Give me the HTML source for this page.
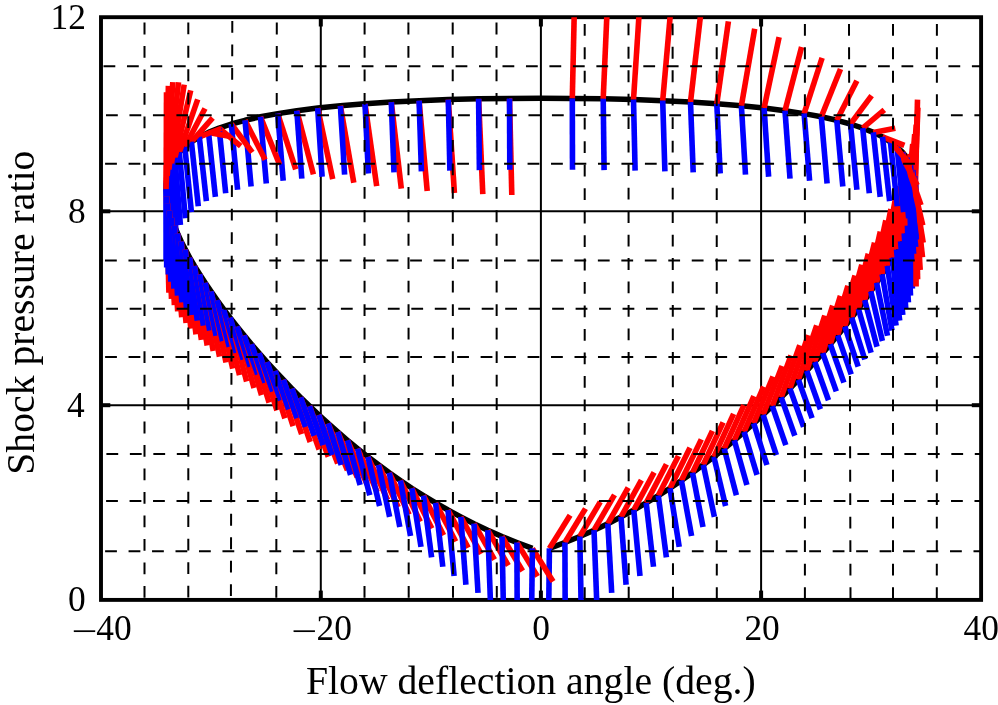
<!DOCTYPE html><html><head><meta charset="utf-8"><style>html,body{margin:0;padding:0;background:#fff;overflow:hidden}svg{display:block}.r{stroke:#f00}.b{stroke:#00f}line{stroke:#000}text{font-family:"Liberation Serif","Times New Roman",serif;fill:#000}</style></head><body>
<svg width="998" height="705" viewBox="0 0 998 705">
<defs><clipPath id="c"><rect x="101.0" y="17.2" width="880.1" height="582.7"/></clipPath></defs>
<g stroke-width="2">
<line x1="320.8" y1="599.9" x2="320.8" y2="17.2"/>
<line x1="540.9" y1="599.9" x2="540.9" y2="17.2"/>
<line x1="761.1" y1="599.9" x2="761.1" y2="17.2"/>
<line x1="101.0" y1="405.2" x2="981.1" y2="405.2"/>
<line x1="101.0" y1="211.3" x2="981.1" y2="211.3"/>
</g>
<g stroke-width="4">
<line x1="320.8" y1="599.9" x2="320.8" y2="590.6"/>
<line x1="320.8" y1="17.2" x2="320.8" y2="26.5"/>
<line x1="540.9" y1="599.9" x2="540.9" y2="590.6"/>
<line x1="540.9" y1="17.2" x2="540.9" y2="26.5"/>
<line x1="761.1" y1="599.9" x2="761.1" y2="590.6"/>
<line x1="761.1" y1="17.2" x2="761.1" y2="26.5"/>
<line x1="101.0" y1="405.2" x2="110.3" y2="405.2"/>
<line x1="981.1" y1="405.2" x2="971.8" y2="405.2"/>
<line x1="101.0" y1="211.3" x2="110.3" y2="211.3"/>
<line x1="981.1" y1="211.3" x2="971.8" y2="211.3"/>
</g>
<rect x="101.0" y="17.2" width="880.1" height="582.7" fill="none" stroke="#000" stroke-width="3.9"/>
<g clip-path="url(#c)">
<polyline fill="none" stroke="#000" stroke-width="5.50" stroke-linejoin="round" points="532.4,548.4 516.9,542.5 502.0,536.5 487.8,530.2 474.0,523.7 460.8,516.9 448.0,510.0 435.6,502.9 423.5,495.6 411.8,488.2 400.4,480.5 389.3,472.8 378.5,464.8 367.9,456.8 357.6,448.6 347.5,440.3 337.7,431.9 328.1,423.4 318.7,414.8 309.5,406.1 300.6,397.4 291.9,388.6 283.4,379.7 275.1,370.9 267.0,362.0 259.1,353.1 251.5,344.2 244.1,335.3 237.0,326.5 230.1,317.6 223.4,308.8 217.1,300.1 211.0,291.4 205.2,282.8 199.7,274.3 194.5,265.9 189.7,257.6 185.3,249.4 181.2,241.4 177.6,233.4 174.4,225.7 171.6,218.0 169.4,210.6 167.7,203.3 166.6,196.2 166.1,189.3 166.3,182.6 167.2,176.0 168.9,169.8 171.4,163.7 174.9,157.8 179.3,152.3 184.8,146.9 191.4,141.8 199.3,136.9 208.5,132.4 219.1,128.1 231.3,124.0 245.0,120.3 260.5,116.8 277.7,113.6 296.8,110.7 317.7,108.1 340.4,105.8 365.0,103.8 391.3,102.1 419.1,100.7 448.3,99.6 478.6,98.8 509.5,98.4 540.9,98.2 572.3,98.4 603.2,98.8 633.5,99.6 662.7,100.7 690.5,102.1 716.8,103.8 741.4,105.8 764.1,108.1 785.0,110.7 804.1,113.6 821.3,116.8 836.8,120.3 850.5,124.0 862.7,128.1 873.3,132.4 882.5,136.9 890.4,141.8 897.0,146.9 902.5,152.3 906.9,157.8 910.4,163.7 912.9,169.8 914.6,176.0 915.5,182.6 915.7,189.3 915.2,196.2 914.1,203.3 912.4,210.6 910.2,218.0 907.4,225.7 904.2,233.4 900.6,241.4 896.5,249.4 892.1,257.6 887.3,265.9 882.1,274.3 876.6,282.8 870.8,291.4 864.7,300.1 858.4,308.8 851.7,317.6 844.8,326.5 837.7,335.3 830.3,344.2 822.7,353.1 814.8,362.0 806.7,370.9 798.4,379.7 789.9,388.6 781.2,397.4 772.3,406.1 763.1,414.8 753.7,423.4 744.1,431.9 734.3,440.3 724.2,448.6 713.9,456.8 703.3,464.8 692.5,472.8 681.4,480.5 670.0,488.2 658.3,495.6 646.2,502.9 633.8,510.0 621.0,516.9 607.8,523.7 594.0,530.2 579.8,536.5 564.9,542.5 549.4,548.4"/>
<g fill="none" stroke-width="5.60"><path class="r" d="M549.4 548.4L570.1 515.2"/><path class="b" d="M549.4 548.4L548.6 619.6"/><path class="r" d="M564.9 542.5L585.5 508.6"/><path class="b" d="M564.9 542.5L565.2 613.9"/><path class="r" d="M579.8 536.5L600.3 501.9"/><path class="b" d="M579.8 536.5L581.2 607.6"/><path class="r" d="M594.0 530.2L614.5 494.9"/><path class="b" d="M594.0 530.2L596.7 600.6"/><path class="r" d="M607.8 523.7L628.2 487.6"/><path class="b" d="M607.8 523.7L611.7 592.9"/><path class="r" d="M621.0 516.9L641.4 480.1"/><path class="b" d="M621.0 516.9L626.1 584.7"/><path class="r" d="M633.8 510.0L654.1 472.3"/><path class="b" d="M633.8 510.0L640.0 576.0"/><path class="r" d="M646.2 502.9L666.4 464.3"/><path class="b" d="M646.2 502.9L653.5 566.7"/><path class="r" d="M658.3 495.6L678.4 456.1"/><path class="b" d="M658.3 495.6L666.4 557.4"/><path class="r" d="M670.0 488.2L690.0 447.8"/><path class="b" d="M670.0 488.2L679.2 546.9"/><path class="r" d="M681.4 480.5L701.3 439.4"/><path class="b" d="M681.4 480.5L691.6 536.1"/><path class="r" d="M692.5 472.8L712.4 430.9"/><path class="b" d="M692.5 472.8L703.0 527.0"/><path class="r" d="M703.3 464.8L723.1 422.4"/><path class="b" d="M703.3 464.8L714.4 516.8"/><path class="r" d="M713.9 456.8L733.6 413.8"/><path class="b" d="M713.9 456.8L725.6 506.0"/><path class="r" d="M724.2 448.6L743.9 405.1"/><path class="b" d="M724.2 448.6L736.4 495.2"/><path class="r" d="M734.3 440.3L753.9 396.2"/><path class="b" d="M734.3 440.3L746.9 485.0"/><path class="r" d="M744.1 431.9L763.6 386.7"/><path class="b" d="M744.1 431.9L757.0 474.9"/><path class="r" d="M753.7 423.4L773.0 376.5"/><path class="b" d="M753.7 423.4L766.9 465.0"/><path class="r" d="M763.1 414.8L782.1 366.0"/><path class="b" d="M763.1 414.8L776.4 455.1"/><path class="r" d="M772.3 406.1L791.0 355.5"/><path class="b" d="M772.3 406.1L785.8 445.1"/><path class="r" d="M781.2 397.4L799.8 345.2"/><path class="b" d="M781.2 397.4L794.8 435.7"/><path class="r" d="M789.9 388.6L808.3 335.2"/><path class="b" d="M789.9 388.6L803.6 426.9"/><path class="r" d="M798.4 379.7L816.7 325.3"/><path class="b" d="M798.4 379.7L812.1 418.1"/><path class="r" d="M806.7 370.9L824.8 315.5"/><path class="b" d="M806.7 370.9L820.4 409.2"/><path class="r" d="M814.8 362.0L832.7 305.7"/><path class="b" d="M814.8 362.0L828.5 400.2"/><path class="r" d="M822.7 353.1L840.4 295.8"/><path class="b" d="M822.7 353.1L836.3 391.4"/><path class="r" d="M830.3 344.2L847.9 285.8"/><path class="b" d="M830.3 344.2L843.9 382.6"/><path class="r" d="M837.7 335.3L855.0 275.5"/><path class="b" d="M837.7 335.3L851.2 374.3"/><path class="r" d="M844.8 326.5L861.8 264.8"/><path class="b" d="M844.8 326.5L858.2 366.7"/><path class="r" d="M851.7 317.6L868.3 253.7"/><path class="b" d="M851.7 317.6L864.8 359.5"/><path class="r" d="M858.4 308.8L874.5 242.6"/><path class="b" d="M858.4 308.8L871.1 352.8"/><path class="r" d="M864.7 300.1L880.3 231.6"/><path class="b" d="M864.7 300.1L877.0 346.7"/><path class="r" d="M870.8 291.4L885.8 220.4"/><path class="b" d="M870.8 291.4L882.4 341.0"/><path class="r" d="M876.6 282.8L890.9 209.1"/><path class="b" d="M876.6 282.8L887.5 335.7"/><path class="r" d="M882.1 274.3L895.6 197.6"/><path class="b" d="M882.1 274.3L892.0 330.6"/><path class="r" d="M887.3 265.9L899.9 186.4"/><path class="b" d="M887.3 265.9L896.1 325.7"/><path class="r" d="M892.1 257.6L903.8 175.4"/><path class="b" d="M892.1 257.6L899.7 320.6"/><path class="r" d="M896.5 249.4L907.2 164.6"/><path class="b" d="M896.5 249.4L902.8 315.1"/><path class="r" d="M900.6 241.4L910.2 154.1"/><path class="b" d="M900.6 241.4L905.8 308.8"/><path class="r" d="M904.2 233.4L912.7 143.9"/><path class="b" d="M904.2 233.4L908.4 302.4"/><path class="r" d="M907.4 225.7L914.7 134.1"/><path class="b" d="M907.4 225.7L910.5 295.7"/><path class="r" d="M910.2 218.0L916.2 124.7"/><path class="b" d="M910.2 218.0L912.4 288.7"/><path class="r" d="M912.4 210.6L917.3 116.0"/><path class="b" d="M912.4 210.6L913.8 281.7"/><path class="r" d="M914.1 203.3L917.9 107.7"/><path class="b" d="M914.1 203.3L914.6 274.6"/><path class="r" d="M915.2 196.2L917.5 99.6"/><path class="b" d="M915.2 196.2L915.3 267.5"/><path class="r" d="M915.7 189.3L916.1 286.4"/><path class="b" d="M915.7 189.3L915.7 260.6"/><path class="r" d="M915.5 182.6L917.6 279.2"/><path class="b" d="M915.5 182.6L916.4 253.8"/><path class="r" d="M914.6 176.0L920.2 270.0"/><path class="b" d="M914.6 176.0L916.7 246.8"/><path class="r" d="M912.9 169.8L922.5 257.2"/><path class="b" d="M912.9 169.8L916.3 239.6"/><path class="r" d="M910.4 163.7L923.2 242.7"/><path class="b" d="M910.4 163.7L914.9 232.2"/><path class="r" d="M906.9 157.8L922.8 225.3"/><path class="b" d="M906.9 157.8L912.5 224.9"/><path class="r" d="M902.5 152.3L921.0 205.1"/><path class="b" d="M902.5 152.3L908.7 218.3"/><path class="r" d="M897.0 146.9L917.2 185.3"/><path class="b" d="M897.0 146.9L903.6 212.1"/><path class="r" d="M890.4 141.8L911.7 165.8"/><path class="b" d="M890.4 141.8L897.3 206.3"/><path class="r" d="M882.5 136.9L904.4 145.4"/><path class="b" d="M882.5 136.9L889.6 201.1"/><path class="r" d="M873.3 132.4L895.3 128.3"/><path class="b" d="M873.3 132.4L880.2 196.9"/><path class="r" d="M862.7 128.1L884.3 109.9"/><path class="b" d="M862.7 128.1L869.3 193.2"/><path class="r" d="M850.5 124.0L871.6 95.6"/><path class="b" d="M850.5 124.0L856.9 189.7"/><path class="r" d="M836.8 120.3L856.9 80.8"/><path class="b" d="M836.8 120.3L842.8 186.4"/><path class="r" d="M821.3 116.8L840.5 69.0"/><path class="b" d="M821.3 116.8L827.1 183.4"/><path class="r" d="M804.1 113.6L822.1 57.9"/><path class="b" d="M804.1 113.6L809.6 180.7"/><path class="r" d="M785.0 110.7L801.6 47.0"/><path class="b" d="M785.0 110.7L790.0 178.6"/><path class="r" d="M764.1 108.1L779.1 37.1"/><path class="b" d="M764.1 108.1L768.6 176.7"/><path class="r" d="M741.4 105.8L754.7 28.8"/><path class="b" d="M741.4 105.8L745.5 174.7"/><path class="r" d="M716.8 103.8L728.4 21.4"/><path class="b" d="M716.8 103.8L720.2 173.5"/><path class="r" d="M690.5 102.1L700.5 15.6"/><path class="b" d="M690.5 102.1L693.2 172.4"/><path class="r" d="M662.7 100.7L670.7 10.3"/><path class="b" d="M662.7 100.7L664.9 171.4"/><path class="r" d="M633.5 99.6L639.6 6.3"/><path class="b" d="M633.5 99.6L635.1 170.6"/><path class="r" d="M603.2 98.8L607.4 3.5"/><path class="b" d="M603.2 98.8L604.1 170.1"/><path class="r" d="M572.3 98.4L574.5 1.8"/><path class="b" d="M572.3 98.4L572.5 169.7"/><path class="r" d="M509.5 98.4L511.8 195.0"/><path class="b" d="M509.5 98.4L509.8 169.7"/><path class="r" d="M478.6 98.8L482.8 194.2"/><path class="b" d="M478.6 98.8L479.4 170.1"/><path class="r" d="M448.3 99.6L454.4 193.0"/><path class="b" d="M448.3 99.6L449.9 170.6"/><path class="r" d="M419.1 100.7L427.2 191.1"/><path class="b" d="M419.1 100.7L421.4 171.4"/><path class="r" d="M391.3 102.1L401.3 188.6"/><path class="b" d="M391.3 102.1L394.0 172.4"/><path class="r" d="M365.0 103.8L376.7 186.1"/><path class="b" d="M365.0 103.8L368.4 173.5"/><path class="r" d="M340.4 105.8L353.8 182.8"/><path class="b" d="M340.4 105.8L344.6 174.7"/><path class="r" d="M317.7 108.1L332.7 179.1"/><path class="b" d="M317.7 108.1L322.1 176.7"/><path class="r" d="M296.8 110.7L313.4 174.4"/><path class="b" d="M296.8 110.7L301.8 178.6"/><path class="r" d="M277.7 113.6L295.7 169.3"/><path class="b" d="M277.7 113.6L283.2 180.7"/><path class="r" d="M260.5 116.8L279.6 164.6"/><path class="b" d="M260.5 116.8L266.3 183.4"/><path class="r" d="M245.0 120.3L265.1 159.7"/><path class="b" d="M245.0 120.3L251.1 186.4"/><path class="r" d="M231.3 124.0L252.3 152.4"/><path class="b" d="M231.3 124.0L237.6 189.7"/><path class="r" d="M219.1 128.1L240.7 146.2"/><path class="b" d="M219.1 128.1L225.7 193.2"/><path class="r" d="M208.5 132.4L230.5 136.4"/><path class="b" d="M208.5 132.4L215.4 196.9"/><path class="r" d="M199.3 136.9L221.2 128.5"/><path class="b" d="M199.3 136.9L206.4 201.1"/><path class="r" d="M191.4 141.8L212.7 117.8"/><path class="b" d="M191.4 141.8L198.3 206.3"/><path class="r" d="M184.8 146.9L205.0 108.5"/><path class="b" d="M184.8 146.9L191.4 212.1"/><path class="r" d="M179.3 152.3L197.7 99.4"/><path class="b" d="M179.3 152.3L185.4 218.3"/><path class="r" d="M174.9 157.8L190.7 90.4"/><path class="b" d="M174.9 157.8L180.4 224.9"/><path class="r" d="M171.4 163.7L184.2 84.6"/><path class="b" d="M171.4 163.7L176.0 232.2"/><path class="r" d="M168.9 169.8L178.5 82.3"/><path class="b" d="M168.9 169.8L172.2 239.6"/><path class="r" d="M167.2 176.0L172.8 82.1"/><path class="b" d="M167.2 176.0L169.3 246.8"/><path class="r" d="M166.3 182.6L168.4 85.9"/><path class="b" d="M166.3 182.6L167.1 253.8"/><path class="r" d="M166.1 189.3L166.5 92.2"/><path class="b" d="M166.1 189.3L166.1 260.6"/><path class="r" d="M166.6 196.2L168.9 292.7"/><path class="b" d="M166.6 196.2L166.7 267.5"/><path class="r" d="M167.7 203.3L171.5 298.9"/><path class="b" d="M167.7 203.3L168.3 274.6"/><path class="r" d="M169.4 210.6L174.4 305.2"/><path class="b" d="M169.4 210.6L170.8 281.7"/><path class="r" d="M171.6 218.0L177.7 311.4"/><path class="b" d="M171.6 218.0L173.9 288.7"/><path class="r" d="M174.4 225.7L181.7 317.3"/><path class="b" d="M174.4 225.7L177.5 295.7"/><path class="r" d="M177.6 233.4L186.1 323.0"/><path class="b" d="M177.6 233.4L181.8 302.4"/><path class="r" d="M181.2 241.4L190.9 328.6"/><path class="b" d="M181.2 241.4L186.5 308.8"/><path class="r" d="M185.3 249.4L196.0 334.3"/><path class="b" d="M185.3 249.4L191.6 315.1"/><path class="r" d="M189.7 257.6L201.4 339.9"/><path class="b" d="M189.7 257.6L197.3 320.6"/><path class="r" d="M194.5 265.9L207.2 345.5"/><path class="b" d="M194.5 265.9L203.4 325.7"/><path class="r" d="M199.7 274.3L213.2 351.0"/><path class="b" d="M199.7 274.3L209.7 330.6"/><path class="r" d="M205.2 282.8L219.5 356.6"/><path class="b" d="M205.2 282.8L216.1 335.7"/><path class="r" d="M211.0 291.4L226.0 362.5"/><path class="b" d="M211.0 291.4L222.6 341.0"/><path class="r" d="M217.1 300.1L232.7 368.6"/><path class="b" d="M217.1 300.1L229.3 346.7"/><path class="r" d="M223.4 308.8L239.5 375.1"/><path class="b" d="M223.4 308.8L236.2 352.8"/><path class="r" d="M230.1 317.6L246.6 381.5"/><path class="b" d="M230.1 317.6L243.2 359.5"/><path class="r" d="M237.0 326.5L254.0 388.1"/><path class="b" d="M237.0 326.5L250.3 366.7"/><path class="r" d="M244.1 335.3L261.5 395.1"/><path class="b" d="M244.1 335.3L257.7 374.3"/><path class="r" d="M251.5 344.2L269.1 402.6"/><path class="b" d="M251.5 344.2L265.1 382.6"/><path class="r" d="M259.1 353.1L276.9 410.4"/><path class="b" d="M259.1 353.1L272.8 391.4"/><path class="r" d="M267.0 362.0L284.9 418.3"/><path class="b" d="M267.0 362.0L280.6 400.2"/><path class="r" d="M275.1 370.9L293.1 426.2"/><path class="b" d="M275.1 370.9L288.7 409.2"/><path class="r" d="M283.4 379.7L301.6 434.2"/><path class="b" d="M283.4 379.7L297.0 418.1"/><path class="r" d="M291.9 388.6L310.2 442.0"/><path class="b" d="M291.9 388.6L305.5 426.9"/><path class="r" d="M300.6 397.4L319.1 449.5"/><path class="b" d="M300.6 397.4L314.2 435.7"/><path class="r" d="M309.5 406.1L328.3 456.7"/><path class="b" d="M309.5 406.1L323.1 445.1"/><path class="r" d="M318.7 414.8L337.7 463.5"/><path class="b" d="M318.7 414.8L332.0 455.1"/><path class="r" d="M328.1 423.4L347.4 470.2"/><path class="b" d="M328.1 423.4L341.2 465.0"/><path class="r" d="M337.7 431.9L357.2 477.1"/><path class="b" d="M337.7 431.9L350.6 474.9"/><path class="r" d="M347.5 440.3L367.1 484.4"/><path class="b" d="M347.5 440.3L360.1 485.0"/><path class="r" d="M357.6 448.6L377.3 492.1"/><path class="b" d="M357.6 448.6L369.8 495.2"/><path class="r" d="M367.9 456.8L387.6 499.8"/><path class="b" d="M367.9 456.8L379.6 506.0"/><path class="r" d="M378.5 464.8L398.2 507.3"/><path class="b" d="M378.5 464.8L389.6 516.8"/><path class="r" d="M389.3 472.8L409.1 514.6"/><path class="b" d="M389.3 472.8L399.8 527.0"/><path class="r" d="M400.4 480.5L420.3 521.7"/><path class="b" d="M400.4 480.5L410.5 536.1"/><path class="r" d="M411.8 488.2L431.8 528.6"/><path class="b" d="M411.8 488.2L421.0 546.9"/><path class="r" d="M423.5 495.6L443.6 535.2"/><path class="b" d="M423.5 495.6L431.6 557.4"/><path class="r" d="M435.6 502.9L455.7 541.5"/><path class="b" d="M435.6 502.9L442.8 566.7"/><path class="r" d="M448.0 510.0L468.2 547.7"/><path class="b" d="M448.0 510.0L454.1 576.0"/><path class="r" d="M460.8 516.9L481.1 553.8"/><path class="b" d="M460.8 516.9L465.9 584.7"/><path class="r" d="M474.0 523.7L494.5 559.7"/><path class="b" d="M474.0 523.7L478.0 592.9"/><path class="r" d="M487.8 530.2L508.3 565.5"/><path class="b" d="M487.8 530.2L490.4 600.6"/><path class="r" d="M502.0 536.5L522.6 571.0"/><path class="b" d="M502.0 536.5L503.4 607.6"/><path class="r" d="M516.9 542.5L537.5 576.4"/><path class="b" d="M516.9 542.5L517.2 613.9"/><path class="r" d="M532.4 548.4L553.1 581.6"/><path class="b" d="M532.4 548.4L531.5 619.6"/></g>
</g>
<g stroke-width="2" stroke-dasharray="11.8 11.67">
<line x1="144.5" y1="22.6" x2="144.5" y2="599.9"/>
<line x1="188.3" y1="22.4" x2="188.3" y2="599.9"/>
<line x1="232.3" y1="21.0" x2="230.9" y2="599.9"/>
<line x1="276.8" y1="22.6" x2="276.3" y2="599.9"/>
<line x1="364.6" y1="22.6" x2="364.5" y2="599.9"/>
<line x1="408.4" y1="22.6" x2="408.7" y2="599.9"/>
<line x1="452.7" y1="22.6" x2="453.0" y2="599.9"/>
<line x1="496.5" y1="22.6" x2="496.8" y2="599.9"/>
<line x1="584.7" y1="23.9" x2="584.7" y2="599.9"/>
<line x1="628.5" y1="23.4" x2="628.7" y2="599.9"/>
<line x1="672.6" y1="23.4" x2="673.0" y2="599.9"/>
<line x1="716.7" y1="23.9" x2="716.8" y2="599.9"/>
<line x1="804.9" y1="23.9" x2="804.9" y2="599.9"/>
<line x1="849.0" y1="23.9" x2="850.5" y2="599.9"/>
<line x1="893.0" y1="23.9" x2="893.0" y2="599.9"/>
<line x1="936.9" y1="23.9" x2="936.8" y2="599.9"/>
<line x1="103.5" y1="66.2" x2="981.1" y2="66.2"/>
<line x1="106.0" y1="115.2" x2="981.1" y2="115.2"/>
<line x1="105.1" y1="163.7" x2="981.1" y2="163.7"/>
<line x1="105.0" y1="260.4" x2="981.1" y2="260.4"/>
<line x1="106.2" y1="308.7" x2="981.1" y2="308.7"/>
<line x1="105.1" y1="357.0" x2="981.1" y2="357.0"/>
<line x1="106.4" y1="453.9" x2="981.1" y2="453.9"/>
<line x1="106.1" y1="501.0" x2="981.1" y2="501.0"/>
<line x1="105.1" y1="551.2" x2="981.1" y2="551.2"/>
</g>
<text x="86.0" y="29.2" font-size="35.4" text-anchor="end">12</text>
<text x="85.6" y="222.5" font-size="35.4" text-anchor="end">8</text>
<text x="84.6" y="416.7" font-size="35.4" text-anchor="end">4</text>
<text x="85.6" y="610.9" font-size="35.4" text-anchor="end">0</text>
<text transform="translate(71.4,642.9) scale(1.3,1)" font-size="35.4">−</text>
<text x="131.6" y="640" font-size="35.4" text-anchor="end">40</text>
<text transform="translate(291.2,642.9) scale(1.3,1)" font-size="35.4">−</text>
<text x="351.9" y="640" font-size="35.4" text-anchor="end">20</text>
<text x="541.2" y="640" font-size="35.4" text-anchor="middle">0</text>
<text x="779.8" y="640" font-size="35.4" text-anchor="end">20</text>
<text x="999" y="640" font-size="35.4" text-anchor="end">40</text>
<text x="530.8" y="693.8" font-size="39.7" text-anchor="middle">Flow deflection angle (deg.)</text>
<text transform="translate(33.5,312.7) rotate(-90)" font-size="39.7" text-anchor="middle">Shock pressure ratio</text>
</svg></body></html>
